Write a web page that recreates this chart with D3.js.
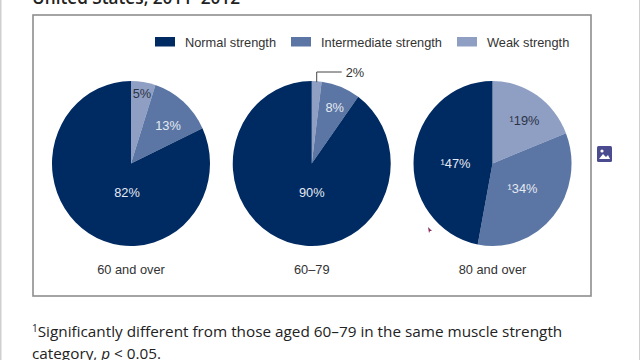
<!DOCTYPE html>
<html>
<head>
<meta charset="utf-8">
<script src="https://cdn.jsdelivr.net/npm/d3@7"></script>
<style>
  html, body { margin: 0; padding: 0; background: #fff; overflow: hidden; }
  text { font-family: "Liberation Sans", Arial, sans-serif; }
  .page { font-family: "Open Sans", sans-serif; fill: #222; }
</style>
</head>
<body>
<div id="root"></div>
<script>
const ageGroups = ['60 and over', '60–79', '80 and over']
const categories = ['Normal strength', 'Intermediate strength', 'Weak strength']
const normal = [82, 90, 47]
const intermediate = [13, 8, 34]
const weak = [5, 2, 19]
const significant = [false, false, true]

const width = 640
const height = 360
const frame = { left: 33, top: 15, right: 591, bottom: 296 }
const rx = 79
const ry = 82.5
const cy = 163.5
const labelSize = 12.8

const svg = d3.select('#root').append('svg')
  .attr('width', width)
  .attr('height', height)
  .attr('viewBox', `0 0 ${width} ${height}`)
  .style('display', 'block')

// browser edges
svg.append('rect').attr('x', 0).attr('y', 0).attr('width', 1.5).attr('height', height).attr('fill', '#cfcfcf')
svg.append('rect').attr('x', 639).attr('y', 0).attr('width', 1).attr('height', height).attr('fill', '#cfcfcf')

// page text around the figure
svg.append('text').attr('class', 'page')
  .attr('x', 32).attr('y', 4)
  .attr('font-size', 17.2).attr('font-weight', 600)
  .text('United States, 2011–2012')

// figure frame
svg.append('rect')
  .attr('x', frame.left)
  .attr('y', frame.top)
  .attr('width', frame.right - frame.left)
  .attr('height', frame.bottom - frame.top)
  .attr('fill', '#fff')
  .attr('stroke', '#8e8e8e')
  .attr('stroke-width', 1.6)

const color = d3.scaleOrdinal()
  .domain(categories)
  .range(['#002a62', '#5b76a4', '#8f9fc4'])

const xScale = d3.scalePoint()
  .domain(ageGroups)
  .range([131, 492.5])

// legend
const legendX = [155, 291, 457]
const legend = svg.append('g')
  .selectAll('g')
  .data(categories)
  .enter()
  .append('g')
  .attr('transform', (d, i) => `translate(${legendX[i]}, 37)`)

legend.append('rect')
  .attr('width', 20)
  .attr('height', 9.5)
  .attr('fill', d => color(d))

legend.append('text')
  .attr('x', 30)
  .attr('y', 9.5)
  .attr('font-size', labelSize)
  .attr('fill', '#333')
  .text(d => d)

// slices run clockwise from the top: weak, intermediate, normal
const order = ['Weak strength', 'Intermediate strength', 'Normal strength']
const valueOf = { 'Normal strength': normal, 'Intermediate strength': intermediate, 'Weak strength': weak }
const pie = d3.pie().sort(null).value(d => d.value)
const arc = d3.arc().innerRadius(0).outerRadius(rx)

// label anchors relative to each pie centre, same order as the slices
const labelOffsets = [
  [[11, -70], [37, -38], [-4, 29]],
  [[0, 0], [23, -56], [0, 29]],
  [[32, -43], [30, 25], [-37, 0]]
]

ageGroups.forEach((group, g) => {
  const slices = pie(order.map(key => ({ key, value: valueOf[key][g] })))
  const cx = xScale(group)

  svg.append('g')
    .attr('transform', `translate(${cx}, ${cy}) scale(1, ${ry / rx})`)
    .selectAll('path')
    .data(slices)
    .enter()
    .append('path')
    .attr('d', arc)
    .attr('fill', d => color(d.data.key))

  svg.append('g')
    .attr('transform', `translate(${cx}, ${cy})`)
    .selectAll('text')
    .data(slices.filter(d => d.data.value > 2))
    .enter()
    .append('text')
    .attr('x', d => labelOffsets[g][slices.indexOf(d)][0])
    .attr('y', d => labelOffsets[g][slices.indexOf(d)][1] + 4.5)
    .attr('text-anchor', 'middle')
    .attr('font-size', labelSize)
    .attr('fill', d => d.data.key === 'Weak strength' ? '#2b3345' : '#e4e9f2')
    .text(d => `${significant[g] ? '¹' : ''}${d.data.value}%`)

  svg.append('text')
    .attr('x', cx)
    .attr('y', 273.5)
    .attr('text-anchor', 'middle')
    .attr('font-size', labelSize)
    .attr('fill', '#333')
    .text(group)

  // slices too small for an inside label get a leader
  slices.filter(d => d.data.value <= 2).forEach(d => {
    const mid = (d.startAngle + d.endAngle) / 2
    const lx = cx + Math.sin(mid) * rx
    const ly = cy - Math.cos(mid) * ry
    svg.append('path')
      .attr('d', `M${lx},${ly + 1}V72H${lx + 25}`)
      .attr('fill', 'none')
      .attr('stroke', '#444')
      .attr('stroke-width', 1)
    svg.append('text')
      .attr('x', lx + 29)
      .attr('y', 76.5)
      .attr('font-size', labelSize)
      .attr('fill', '#333')
      .text(`${d.data.value}%`)
  })
})

// image badge beside the figure
const badge = svg.append('g').attr('transform', 'translate(597, 146)')
badge.append('rect').attr('width', 15).attr('height', 16).attr('rx', 1.5).attr('fill', '#4b4b8f')
badge.append('path').attr('d', 'M2,13L6,8L9,11L11,9L13,13Z').attr('fill', '#fff')
badge.append('circle').attr('cx', 5).attr('cy', 5).attr('r', 1.6).attr('fill', '#fff')

// stray mouse pointer from the capture
svg.append('path').attr('d', 'M428,227L432,231L430,231L429,233Z').attr('fill', '#8a2a63')

// footnote
const note = svg.append('text').attr('class', 'page').attr('x', 32).attr('y', 337).attr('font-size', 15.3)
note.append('tspan').attr('font-size', 10).attr('dy', -5).text('1')
note.append('tspan').attr('dy', 5).text('Significantly different from those aged 60–79 in the same muscle strength')
const note2 = svg.append('text').attr('class', 'page').attr('x', 32).attr('y', 358.5).attr('font-size', 15.3)
note2.append('tspan').text('category, ')
note2.append('tspan').attr('font-style', 'italic').text('p')
note2.append('tspan').text(' < 0.05.')
</script>
</body>
</html>
